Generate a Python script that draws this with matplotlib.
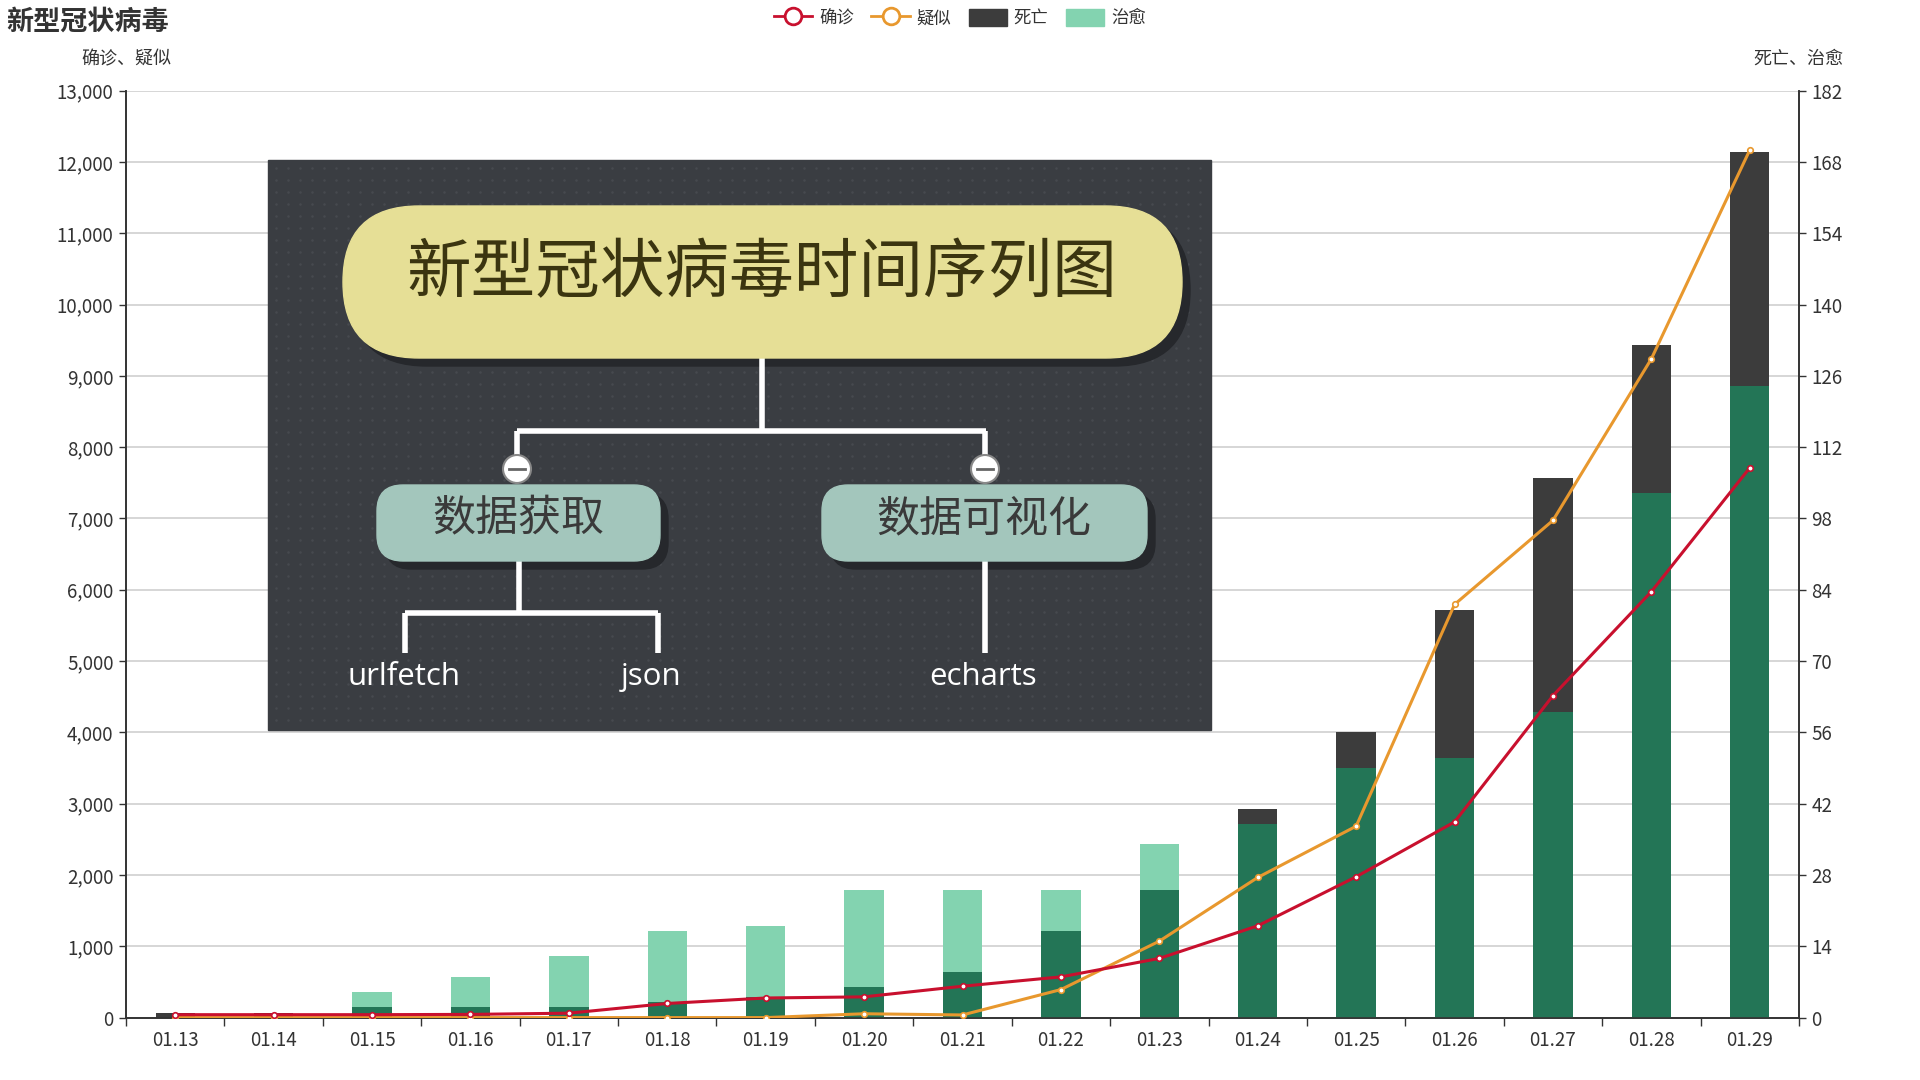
"""Recreates the echarts-style COVID time series chart with a mind-map inset."""
import numpy as np
import matplotlib
matplotlib.use("Agg")
from matplotlib import pyplot as plt
from matplotlib.patches import FancyBboxPatch, Rectangle, Circle, Patch
from matplotlib.lines import Line2D
from matplotlib.ticker import FuncFormatter, MultipleLocator, FixedLocator

plt.rcParams['font.family'] = ['Noto Sans CJK SC', 'DejaVu Sans']

# data
dates = ['01.13', '01.14', '01.15', '01.16', '01.17', '01.18', '01.19', '01.20', '01.21',
         '01.22', '01.23', '01.24', '01.25', '01.26', '01.27', '01.28', '01.29']
confirmed = [41, 41, 41, 45, 62, 198, 275, 291, 440, 571, 830, 1287, 1975, 2744, 4515, 5974, 7711]
suspected = [0, 0, 0, 0, 0, 0, 0, 54, 37, 393, 1072, 1965, 2684, 5794, 6973, 9239, 12167]
dead = [1, 1, 2, 2, 2, 3, 4, 6, 9, 17, 25, 41, 56, 80, 106, 132, 170]
healed = [0, 0, 5, 8, 12, 17, 18, 25, 25, 25, 34, 38, 49, 51, 60, 103, 124]

# mind-map labels of the inset picture
map_title = '新型冠状病毒时间序列图'
map_branches = ['数据获取', '数据可视化']
map_leaves = ['urlfetch', 'json', 'echarts']

RED = '#c8102e'
ORANGE = '#e8982e'
DARK = '#3c3c3c'
LIGHT_GREEN = '#83d3b0'
DEEP_GREEN = '#237556'
TEXT = '#333333'

W, H = 1920, 1080
fig = plt.figure(figsize=(19.2, 10.8), dpi=100)

# main axes: left = 确诊/疑似, right = 死亡/治愈
ax2 = fig.add_axes([126 / W, 1 - 1017.6 / H, (1799 - 126) / W, (1017.6 - 90.6) / H])
ax = ax2.twinx()
ax.yaxis.tick_left()
ax.yaxis.set_label_position('left')
ax2.yaxis.tick_right()
ax.set_zorder(ax2.get_zorder() + 1)
ax.patch.set_visible(False)

x = np.arange(len(dates))
width = 0.4
dead_arr = np.array(dead)
healed_arr = np.array(healed)
overlap = np.minimum(dead_arr, healed_arr)
ax2.bar(x, dead_arr, width, color=DARK, zorder=2)
ax2.bar(x, healed_arr, width, color=LIGHT_GREEN, zorder=2)
ax2.bar(x, overlap, width, color=DEEP_GREEN, zorder=3)

ax.plot(x, confirmed, color=RED, lw=2.2, marker='o', ms=4, mfc='white', mec=RED, mew=1.2, zorder=5)
ax.plot(x, suspected, color=ORANGE, lw=2.2, marker='o', ms=4, mfc='white', mec=ORANGE, mew=1.2, zorder=4)

ax.set_ylim(0, 13000)
ax2.set_ylim(0, 182)
ax.set_xlim(-0.5, len(dates) - 0.5)
ax.yaxis.set_major_locator(MultipleLocator(1000))
ax.yaxis.set_major_formatter(FuncFormatter(lambda v, p: f'{int(v):,}'))
ax2.yaxis.set_major_locator(MultipleLocator(14))

ax2.set_xticks(x)
ax2.set_xticklabels(dates)
ax2.xaxis.set_minor_locator(FixedLocator(np.arange(-0.5, len(dates), 1)))
ax2.tick_params(axis='x', which='major', length=0, pad=9, labelsize=13.5, labelcolor=TEXT)
ax2.tick_params(axis='x', which='minor', length=6, width=1, color=TEXT)
ax2.tick_params(axis='y', length=5, width=1, color=TEXT, labelsize=13.5, labelcolor=TEXT, pad=4)
ax.tick_params(axis='y', length=5, width=1, color=TEXT, labelsize=13.5, labelcolor=TEXT, pad=4)

ax2.set_axisbelow(True)
ax2.grid(axis='y', color='#d0d0d0', lw=1.2)
ax2.grid(axis='x', visible=False)
for a in (ax, ax2):
    a.spines['top'].set_visible(False)
    for s in ('left', 'right', 'bottom'):
        a.spines[s].set_color(TEXT)
        a.spines[s].set_linewidth(1.2)

# titles and axis names
fig.text(6 / W, 1 - 22 / H, '新型冠状病毒', fontsize=19.5, fontweight='bold', color=TEXT, va='center', ha='left')
fig.text(126 / W, 1 - 59 / H, '确诊、疑似', fontsize=13, color=TEXT, ha='center', va='center')
fig.text(1798 / W, 1 - 59 / H, '死亡、治愈', fontsize=13, color=TEXT, ha='center', va='center')

handles = [Line2D([0], [0], color=RED, lw=2, marker='o', ms=12, mfc='white', mec=RED, mew=2),
           Line2D([0], [0], color=ORANGE, lw=2, marker='o', ms=12, mfc='white', mec=ORANGE, mew=2),
           Patch(facecolor=DARK, edgecolor=DARK),
           Patch(facecolor=LIGHT_GREEN, edgecolor=LIGHT_GREEN)]
fig.legend(handles=handles, labels=['确诊', '疑似', '死亡', '治愈'], loc='center',
           bbox_to_anchor=(960 / W, 1 - 18 / H), ncol=4, frameon=False, fontsize=12.5,
           handlelength=2.2, handleheight=1.2, columnspacing=1.0, handletextpad=0.4, labelcolor=TEXT)

# inset mind-map picture, drawn in pixel coordinates
ov = fig.add_axes([0, 0, 1, 1], zorder=10)
ov.set_xlim(0, W)
ov.set_ylim(H, 0)
ov.axis('off')
ov.patch.set_visible(False)

ov.add_patch(Rectangle((268, 160), 943, 570, color='#3a3d42'))
dx, dy = np.meshgrid(np.arange(276, 1208, 12), np.arange(168, 728, 12))
ov.scatter(dx.ravel(), dy.ravel(), s=0.6, color='#474a50', zorder=1)

def pill(x0, y0, x1, y1, r, color, shadow=True):
    if shadow:
        ov.add_patch(FancyBboxPatch((x0 + 8, y0 + 8), x1 - x0, y1 - y0,
                                    boxstyle=f'round,pad=0,rounding_size={r}',
                                    color='#26282c', zorder=2))
    ov.add_patch(FancyBboxPatch((x0, y0), x1 - x0, y1 - y0,
                                boxstyle=f'round,pad=0,rounding_size={r}',
                                color=color, zorder=3))

pill(343, 206, 1182, 358, 76, '#e6df96')
ov.text(762, 274, map_title, fontsize=46.5, color='#3b3510', ha='center', va='center', zorder=4)

line_kw = dict(color='white', lw=4, solid_capstyle='butt', zorder=2)
ov.plot([762, 762], [358, 431], **line_kw)
ov.plot([517, 986], [431, 431], **line_kw)
for cx in (517, 985):
    ov.plot([cx, cx], [431, 470], **line_kw)

pill(377, 485, 660, 561, 26, '#a3c6bc')
pill(822, 485, 1147, 561, 26, '#a3c6bc')
ov.text(518, 519, map_branches[0], fontsize=31, color='#3a3a3a', ha='center', va='center', zorder=4)
ov.text(984, 519, map_branches[1], fontsize=31, color='#3a3a3a', ha='center', va='center', zorder=4)

for cx in (517, 985):
    ov.add_patch(Circle((cx, 469), 14, facecolor='white', edgecolor='#888888', lw=1.5, zorder=5))
    ov.plot([cx - 8, cx + 8], [469, 469], color='#666666', lw=2, zorder=6)

ov.plot([519, 519], [561, 613], **line_kw)
ov.plot([405, 658], [613, 613], **line_kw)
ov.plot([405, 405], [613, 653], **line_kw)
ov.plot([658, 658], [613, 653], **line_kw)
ov.plot([985, 985], [561, 653], **line_kw)

leaf_x = [404, 651, 983]
for lx, name in zip(leaf_x, map_leaves):
    ov.text(lx, 677, name, fontsize=22.5, color='white', ha='center', va='center',
            family=['Open Sans', 'DejaVu Sans'], zorder=4)

plt.savefig('out.png', dpi=100)
